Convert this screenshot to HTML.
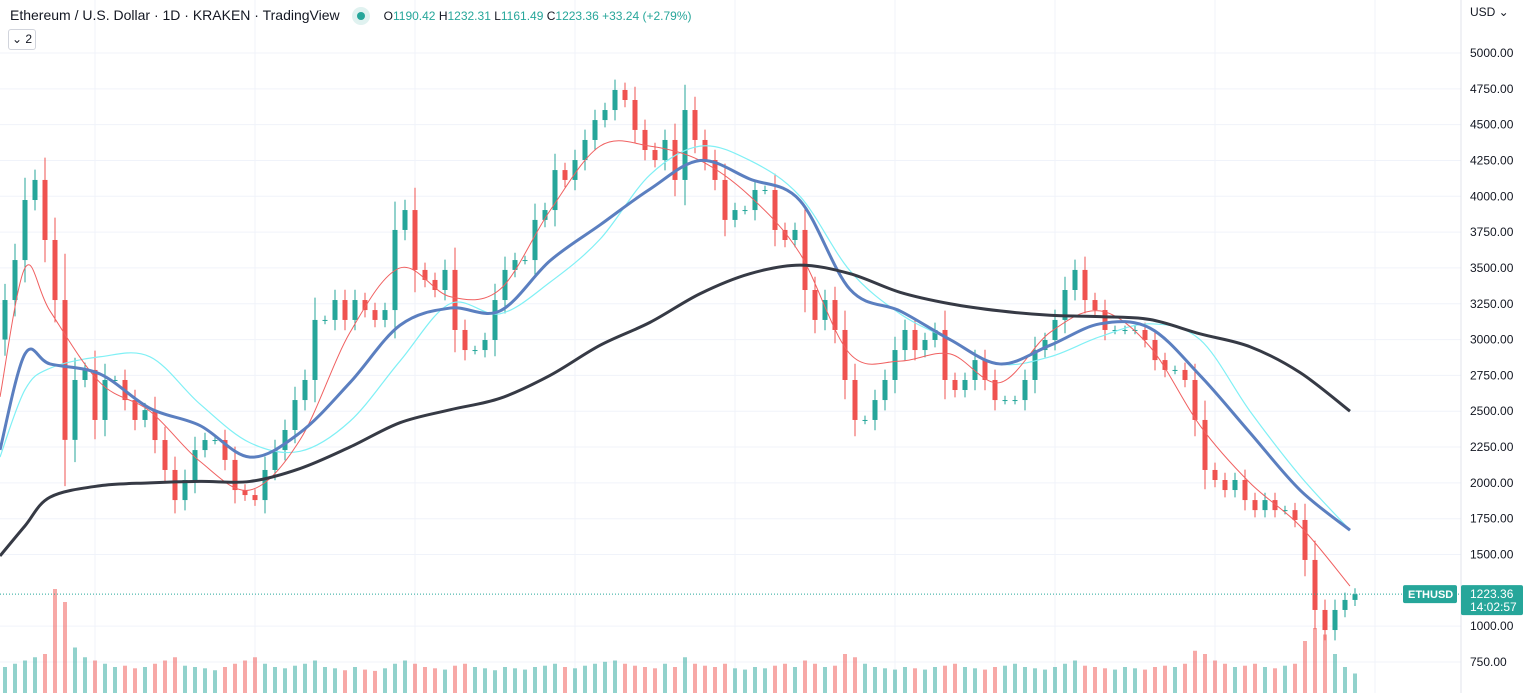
<!DOCTYPE html>
<html><head><meta charset="utf-8"><style>
body{margin:0;width:1529px;height:693px;overflow:hidden;background:#fff;font-family:"Liberation Sans",sans-serif}
#hdr{position:absolute;left:10px;top:7px;font-size:14px;color:#131722;white-space:nowrap}
#ohlc{color:#26a69a;font-size:12px;margin-left:14px}
#dot{display:inline-block;width:18px;height:18px;border-radius:9px;background:#e0f2f0;vertical-align:middle;margin-left:12px;position:relative}
#dot:after{content:"";position:absolute;left:5px;top:5px;width:8px;height:8px;border-radius:4px;background:#26a69a}
#btn2{position:absolute;left:8px;top:29px;width:26px;height:19px;border:1px solid #d1d4dc;border-radius:3px;font-size:12px;line-height:19px;text-align:center;color:#131722;background:#fff}
</style></head><body>
<svg id="c" width="1529" height="693" style="position:absolute;left:0;top:0"></svg>
<div id="hdr">Ethereum / U.S. Dollar · 1D · KRAKEN · TradingView<span id="dot"></span><span id="ohlc"><span style="color:#131722">O</span>1190.42 <span style="color:#131722">H</span>1232.31 <span style="color:#131722">L</span>1161.49 <span style="color:#131722">C</span>1223.36 +33.24 (+2.79%)</span></div>
<div id="btn2">⌄ 2</div>
<script>
const closes=[3276,3555,3974,4114,3695,3276,2300,2718,2788,2439,2718,2718,2578,2439,2508,2299,2090,1880,2020,2229,2299,2299,2160,1950,1915,1880,2090,2229,2369,2578,2718,3137,3137,3276,3137,3276,3206,3137,3206,3765,3904,3486,3416,3346,3486,3067,2927,2927,2997,3276,3486,3555,3555,3835,3904,4183,4114,4253,4393,4532,4602,4742,4672,4463,4323,4253,4393,4114,4602,4393,4253,4114,3835,3904,3904,4044,4044,3765,3695,3765,3346,3137,3276,3067,2718,2439,2439,2578,2718,2927,3067,2927,2997,3067,2718,2648,2718,2857,2718,2578,2578,2578,2718,2927,2997,3137,3346,3486,3276,3206,3067,3067,3067,3067,2997,2857,2788,2788,2718,2439,2090,2020,1950,2020,1880,1810,1880,1810,1810,1741,1462,1113,973,1113,1183,1223];
const firstOpen=3000;
const volumes=[40,45,50,55,60,160,140,70,55,50,45,40,42,38,40,45,50,55,42,40,38,35,40,45,50,55,45,40,38,42,45,50,40,38,35,40,36,34,38,45,50,45,40,38,36,42,45,40,38,35,40,38,36,40,42,45,40,38,42,45,48,50,45,42,40,38,45,40,55,45,42,40,45,38,36,40,38,42,45,40,50,45,40,42,60,55,45,40,38,36,40,38,36,40,42,45,40,38,36,40,42,45,40,38,36,40,45,50,42,40,38,36,40,38,36,40,42,40,45,65,60,50,45,40,42,45,40,38,42,45,80,100,90,60,40,30];
const maX=[0,25,50,100,150,200,250,300,350,400,450,500,550,600,650,700,750,800,850,900,950,1000,1050,1100,1150,1200,1250,1300,1350];
const ma200=[1490,1700,1900,1980,2000,2010,2010,2100,2250,2420,2510,2590,2750,2960,3120,3320,3460,3520,3460,3330,3250,3200,3170,3160,3140,3040,2950,2770,2500];
const maBlue=[2230,2900,2830,2760,2520,2400,2180,2350,2700,3100,3220,3200,3550,3800,4050,4250,4120,3970,3350,3200,3000,2830,2960,3110,3080,2750,2350,1950,1670];
const maCyan=[2180,2650,2800,2880,2880,2550,2280,2220,2430,2850,3250,3180,3400,3700,4150,4350,4250,4000,3480,3180,3000,2830,2880,3020,3110,3000,2500,2050,1670];
const maRed=[2600,3500,3200,2700,2500,2150,1950,2300,3050,3500,3300,3350,3900,4350,4350,4250,4000,3600,2900,2850,2900,2700,3050,3200,2950,2400,2000,1700,1280];
const ticks=[5000,4750,4500,4250,4000,3750,3500,3250,3000,2750,2500,2250,2000,1750,1500,1000,750];
const last=1223.36;
const svg=document.getElementById('c');const NS='http://www.w3.org/2000/svg';
function y(p){return 53+(5000-p)*0.14329;}
function x(i){return 5+i*10;}
function vh(v){return v*0.65;}
function mk(t,a,name){const e=document.createElementNS(NS,t);for(const k in a)e.setAttribute(k,a[k]);


svg.appendChild(e);return e;}
for(let gx=95;gx<1460;gx+=160){mk('line',{x1:gx,x2:gx,y1:0,y2:693,stroke:'#f0f3fa'},'grid-v');}
ticks.forEach(t=>{mk('line',{x1:0,x2:1461,y1:y(t),y2:y(t),stroke:'#f0f3fa'},'grid-h');
const tx=mk('text',{x:1470,y:y(t)+4,'font-size':12,fill:'#131722'},'price-tick');tx.textContent=t.toFixed(2);});
mk('line',{x1:1461,x2:1461,y1:0,y2:693,stroke:'#e0e3eb'},'axis-border');
const ut=mk('text',{x:1470,y:16,'font-size':12,fill:'#131722'},'currency-label');ut.textContent='USD ⌄';
volumes.forEach((v,i)=>{const o=i?closes[i-1]:firstOpen,c=closes[i];
mk('rect',{x:x(i)-2,y:693-vh(v),width:4,height:vh(v),fill:c>=o?'rgba(38,166,154,0.5)':'rgba(239,83,80,0.5)'},'volume-bar');});
closes.forEach((c,i)=>{const o=i?closes[i-1]:firstOpen;const up=c>=o;const col=up?'#26a69a':'#ef5350';
const hi=Math.max(o,c)+Math.abs(c-o)*0.3+30,lo=Math.min(o,c)-Math.abs(c-o)*0.3-30;
mk('line',{x1:x(i),x2:x(i),y1:y(hi),y2:y(lo),stroke:col,'stroke-width':1},'candle-wick');
const t=y(Math.max(o,c)),b=y(Math.min(o,c));
mk('rect',{x:x(i)-2.5,y:t,width:5,height:Math.max(1,b-t),fill:col},'candle-body');});
function line(arr,col,w,name){const P=arr.map((v,i)=>[maX[i],y(v)]);let d='M'+P[0][0]+','+P[0][1];
for(let i=0;i<P.length-1;i++){const p0=P[Math.max(0,i-1)],p1=P[i],p2=P[i+1],p3=P[Math.min(P.length-1,i+2)];
const c1=[p1[0]+(p2[0]-p0[0])/6,p1[1]+(p2[1]-p0[1])/6],c2=[p2[0]-(p3[0]-p1[0])/6,p2[1]-(p3[1]-p1[1])/6];
d+=' C'+c1[0]+','+c1[1]+' '+c2[0]+','+c2[1]+' '+p2[0]+','+p2[1];}
mk('path',{d:d,fill:'none',stroke:col,'stroke-width':w,'stroke-linejoin':'round'},name);}
line(maCyan,'#80f0f5',1.2,'ma-cyan');
line(maRed,'#f06060',1,'ma-red');
line(maBlue,'#5b7fc0',3,'ma-blue');
line(ma200,'#363a45',3,'ma-200');
mk('line',{x1:0,x2:1461,y1:y(last),y2:y(last),stroke:'#26a69a','stroke-dasharray':'1 2'},'last-price-line');
mk('rect',{x:1403,y:y(last)-9,width:54,height:18,rx:2,fill:'#26a69a'},'symbol-label-bg');
const sl=mk('text',{x:1408,y:y(last)+4,'font-size':11,'font-weight':'bold',fill:'#fff'},'symbol-label');sl.textContent='ETHUSD';
mk('rect',{x:1461,y:y(last)-9,width:62,height:30,rx:2,fill:'#26a69a'},'last-price-bg');
const lp=mk('text',{x:1470,y:y(last)+4,'font-size':12,fill:'#fff'},'last-price');lp.textContent='1223.36';
const cd=mk('text',{x:1470,y:y(last)+17,'font-size':12,fill:'#fff'},'countdown');cd.textContent='14:02:57';
</script>
</body></html>
